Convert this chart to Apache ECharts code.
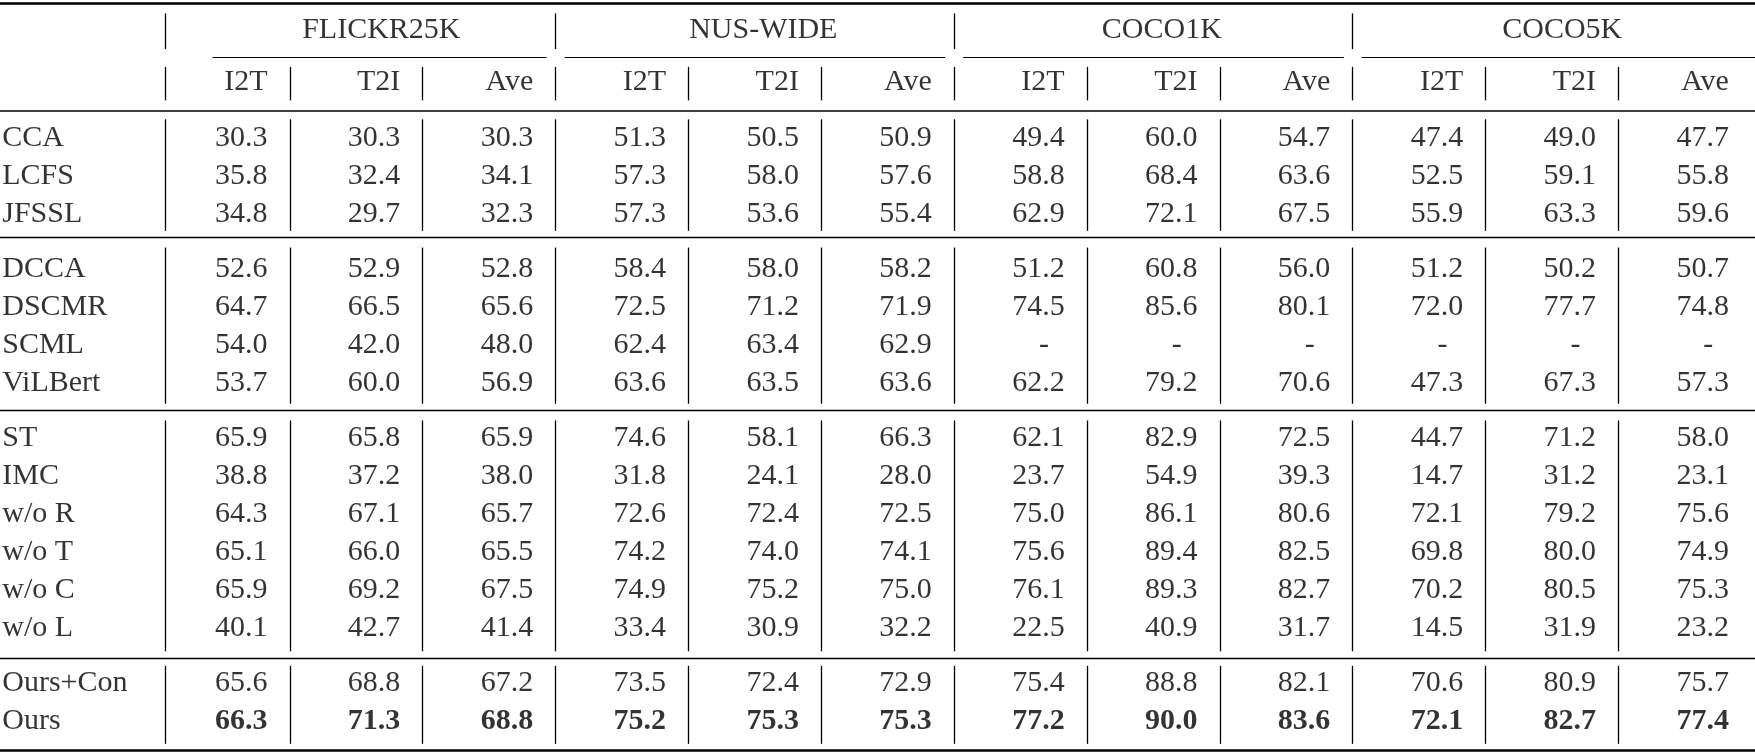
<!DOCTYPE html>
<html><head><meta charset="utf-8">
<script src="https://cdn.jsdelivr.net/npm/echarts@6/dist/echarts.min.js"></script>
<style>html,body{margin:0;background:#fff}#c{width:1755px;height:755px}</style>
</head><body><div id="c"></div>
<script>
const datasets = ['FLICKR25K','NUS-WIDE','COCO1K','COCO5K'];
const metrics = ['I2T','T2I','Ave'];
const methodGroups = [
  ['CCA','LCFS','JFSSL'],
  ['DCCA','DSCMR','SCML','ViLBert'],
  ['ST','IMC','w/o R','w/o T','w/o C','w/o L'],
  ['Ours+Con','Ours']
];
const CCA     = ['30.3','30.3','30.3','51.3','50.5','50.9','49.4','60.0','54.7','47.4','49.0','47.7'];
const LCFS    = ['35.8','32.4','34.1','57.3','58.0','57.6','58.8','68.4','63.6','52.5','59.1','55.8'];
const JFSSL   = ['34.8','29.7','32.3','57.3','53.6','55.4','62.9','72.1','67.5','55.9','63.3','59.6'];
const DCCA    = ['52.6','52.9','52.8','58.4','58.0','58.2','51.2','60.8','56.0','51.2','50.2','50.7'];
const DSCMR   = ['64.7','66.5','65.6','72.5','71.2','71.9','74.5','85.6','80.1','72.0','77.7','74.8'];
const SCML    = ['54.0','42.0','48.0','62.4','63.4','62.9','-','-','-','-','-','-'];
const ViLBert = ['53.7','60.0','56.9','63.6','63.5','63.6','62.2','79.2','70.6','47.3','67.3','57.3'];
const ST      = ['65.9','65.8','65.9','74.6','58.1','66.3','62.1','82.9','72.5','44.7','71.2','58.0'];
const IMC     = ['38.8','37.2','38.0','31.8','24.1','28.0','23.7','54.9','39.3','14.7','31.2','23.1'];
const woR     = ['64.3','67.1','65.7','72.6','72.4','72.5','75.0','86.1','80.6','72.1','79.2','75.6'];
const woT     = ['65.1','66.0','65.5','74.2','74.0','74.1','75.6','89.4','82.5','69.8','80.0','74.9'];
const woC     = ['65.9','69.2','67.5','74.9','75.2','75.0','76.1','89.3','82.7','70.2','80.5','75.3'];
const woL     = ['40.1','42.7','41.4','33.4','30.9','32.2','22.5','40.9','31.7','14.5','31.9','23.2'];
const OursCon = ['65.6','68.8','67.2','73.5','72.4','72.9','75.4','88.8','82.1','70.6','80.9','75.7'];
const Ours    = ['66.3','71.3','68.8','75.2','75.3','75.3','77.2','90.0','83.6','72.1','82.7','77.4'];
const values = {CCA,LCFS,JFSSL,DCCA,DSCMR,SCML,ViLBert,ST,IMC,'w/o R':woR,'w/o T':woT,'w/o C':woC,'w/o L':woL,'Ours+Con':OursCon,Ours};

const W=1568,H=677, colEnd=j=>239+118.7*j, barX=j=>259+118.7*j, firstBar=148;
const rowY=(i,g)=>124+34.1*i+15*g;
const FS=30, FF='"Liberation Serif","Times New Roman",serif';
const texts=[];
datasets.forEach((d,k)=>{
  const s=k===0?190:barX(3*k-1)+20, e=k===3?W-5:barX(3*k+2)-5;
  texts.push({value:[(s+e)/2,27],label:{align:'center'},name:d});
});
for(let j=0;j<12;j++) texts.push({value:[colEnd(j),74],label:{align:'right'},name:metrics[j%3]});
let idx=0;
methodGroups.forEach((grp,g)=>grp.forEach(m=>{
  const y=rowY(idx,g);
  const bold=m==='Ours';
  texts.push({value:[2,y],label:{align:'left'},name:m});
  values[m].forEach((v,j)=>texts.push({value:[colEnd(j)-(v==='-'?14:0),y],label:{align:'right',fontWeight:bold?'bold':'normal'},name:v}));
  idx++;
}));
const lines=[];
const hl=(x1,x2,y,w)=>lines.push({coords:[[x1,y],[x2,y]],lineStyle:{width:w}});
const vl=(x,y1,y2)=>lines.push({coords:[[x,y1],[x,y2]],lineStyle:{width:1.3}});
hl(0,W,3,2.5); hl(0,W,99,1.6); hl(0,W,213,1.3); hl(0,W,368,1.3); hl(0,W,590,1.3); hl(0,W,673,2.5);
datasets.forEach((d,k)=>{const s=k===0?190:barX(3*k-1)+8, e=k===3?W:barX(3*k+2)-8; hl(s,e,51,1.1);});
[firstBar,barX(2),barX(5),barX(8)].forEach(x=>vl(x,12,44));
[firstBar].concat([...Array(11).keys()].map(barX)).forEach(x=>{
  vl(x,60,90);
  [[107,207],[222,362],[377,584],[597,667]].forEach(([a,b])=>vl(x,a,b));
});
const chart=echarts.init(document.getElementById('c'));
chart.setOption({
  animation:false,
  grid:{left:0,right:0,top:0,bottom:0},
  xAxis:{type:'value',min:0,max:W,show:false},
  yAxis:{type:'value',min:0,max:H,inverse:true,show:false},
  series:[
    {type:'lines',coordinateSystem:'cartesian2d',data:lines,lineStyle:{color:'#000',opacity:1},silent:true},
    {type:'scatter',symbolSize:0,data:texts,silent:true,
     label:{show:true,position:'inside',formatter:p=>p.name,color:'#000',fontSize:FS,fontFamily:FF,verticalAlign:'middle'}}
  ]
});
</script></body></html>
